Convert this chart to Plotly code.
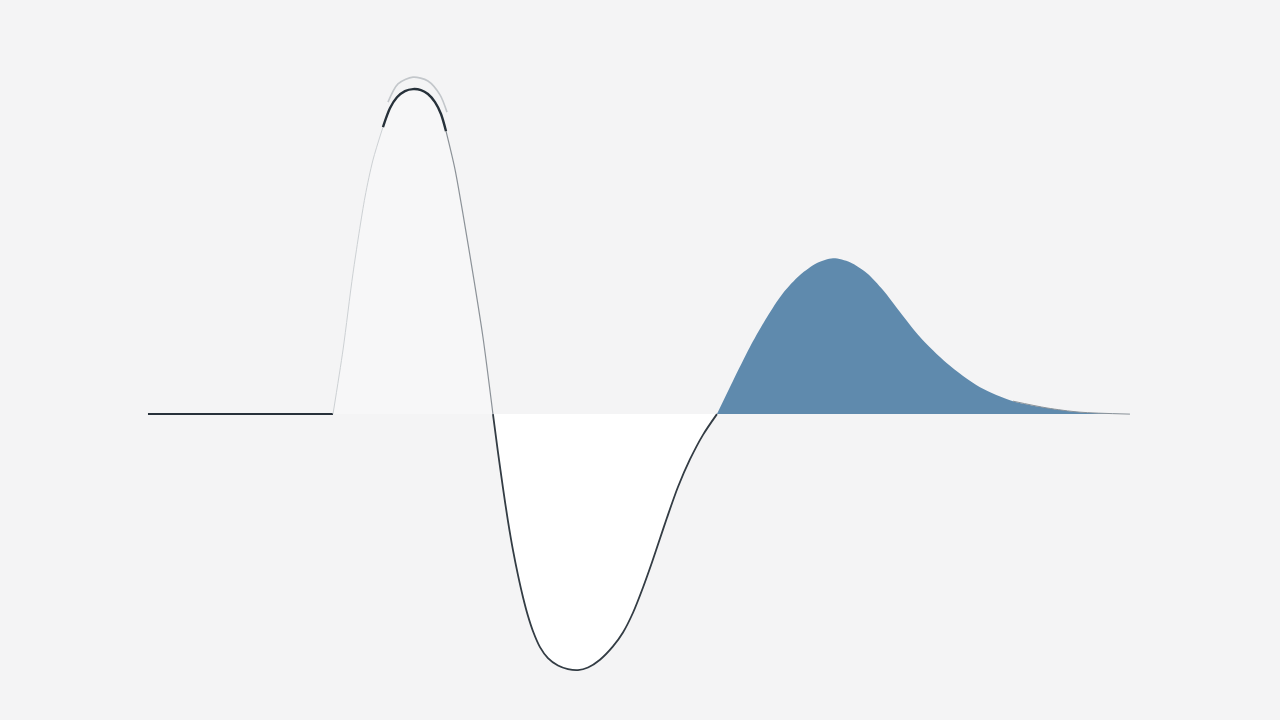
#######################################################################
# Кривая отклика: плоский участок, острый пик, провал и синий горб
#######################################################################
import plotly.graph_objs as go

#######################################################################
# Данные (время в усл. ед., амплитуда в усл. ед.)
#######################################################################
# плоский участок до стимула
t_flat   = [0.0, 1.884]
amp_flat = [0.0, 0.0]

# подъём к первому пику (слабая серая линия)
t_rise   = [1.884, 1.986, 2.088, 2.210, 2.291, 2.393]
amp_rise = [0.0,   0.198, 0.435, 0.670, 0.784, 0.886]

# вершина первого пика
t_top    = [2.393, 2.464, 2.536, 2.617, 2.699, 2.780, 2.851, 2.923, 2.984, 3.035]
amp_top  = [0.886, 0.944, 0.978, 0.997, 1.003, 1.000, 0.988, 0.963, 0.926, 0.873]

# "тень" над вершиной
t_ghost   = [2.444, 2.546, 2.699, 2.851, 2.974, 3.045]
amp_ghost = [0.963, 1.019, 1.040, 1.028, 0.985, 0.932]

# спад после пика
t_fall   = [3.035, 3.126, 3.208, 3.310, 3.411, 3.513]
amp_fall = [0.873, 0.756, 0.617, 0.432, 0.238, 0.0]

# провал ниже нуля
t_dip    = [3.513, 3.564, 3.615, 3.666, 3.717, 3.768, 3.819, 3.870, 3.921, 3.992, 4.073, 4.175,
            4.277, 4.379, 4.481, 4.603, 4.735, 4.837, 4.939, 5.041, 5.132, 5.214, 5.285, 5.397,
            5.519, 5.652, 5.794]
amp_dip  = [0.0, -0.117, -0.228, -0.330, -0.420, -0.497, -0.565, -0.623, -0.670, -0.719, -0.753, -0.776,
            -0.787, -0.790, -0.782, -0.758, -0.717, -0.674, -0.613, -0.535, -0.458, -0.384, -0.320, -0.225,
            -0.140, -0.064, 0.0]

# второй (синий) горб
t_hump   = [5.794, 5.957, 6.130, 6.303, 6.466, 6.640, 6.813, 6.976, 7.149, 7.322, 7.485, 7.658,
            7.862, 8.136, 8.473, 8.809, 9.155, 9.491, 10.000]
amp_hump = [0.0, 0.102, 0.207, 0.299, 0.373, 0.429, 0.466, 0.481, 0.469, 0.435, 0.383, 0.315,
            0.238, 0.157, 0.083, 0.040, 0.019, 0.006, 0.0]

#######################################################################
# Цвета
#######################################################################
bg_color    = "#f4f4f5"
dark_line   = "#27313a"
faint_line  = "#cdd1d4"
mid_line    = "#8c9298"
blue_fill   = "#5f8aad"

fig = go.Figure()

# заливка под первым пиком (почти как фон)
fig.add_trace(go.Scatter(
    x=t_rise + t_top[1:] + t_fall[1:], y=amp_rise + amp_top[1:] + amp_fall[1:],
    mode="lines", line=dict(width=0, shape="spline", smoothing=0.8),
    fill="tozeroy", fillcolor="#f7f7f8", hoverinfo="skip"))

# белая заливка провала
fig.add_trace(go.Scatter(
    x=t_dip, y=amp_dip,
    mode="lines", line=dict(width=0, shape="spline", smoothing=0.8),
    fill="tozeroy", fillcolor="#ffffff", hoverinfo="skip"))

# синий горб
fig.add_trace(go.Scatter(
    x=t_hump, y=amp_hump,
    mode="lines", line=dict(width=0, shape="spline", smoothing=0.8),
    fill="tozeroy", fillcolor=blue_fill, hoverinfo="skip"))

# линии кривой
fig.add_trace(go.Scatter(x=t_flat, y=amp_flat, mode="lines",
                         line=dict(color=dark_line, width=2)))
fig.add_trace(go.Scatter(x=t_rise, y=amp_rise, mode="lines",
                         line=dict(color=faint_line, width=1, shape="spline", smoothing=0.8)))
fig.add_trace(go.Scatter(x=t_ghost, y=amp_ghost, mode="lines",
                         line=dict(color="#c3c7cb", width=1.6, shape="spline", smoothing=0.8)))
fig.add_trace(go.Scatter(x=t_top, y=amp_top, mode="lines",
                         line=dict(color=dark_line, width=2.4, shape="spline", smoothing=0.8)))
fig.add_trace(go.Scatter(x=t_fall, y=amp_fall, mode="lines",
                         line=dict(color=mid_line, width=1.2, shape="spline", smoothing=0.8)))
fig.add_trace(go.Scatter(x=t_dip, y=amp_dip, mode="lines",
                         line=dict(color="#333c44", width=1.8, shape="spline", smoothing=0.8)))
# хвост горба тонкой серой линией
fig.add_trace(go.Scatter(x=t_hump[-4:], y=amp_hump[-4:], mode="lines",
                         line=dict(color="#8a9299", width=1, shape="spline", smoothing=0.8)))

fig.update_layout(
    width=1280, height=720,
    margin=dict(l=0, r=0, t=0, b=0),
    paper_bgcolor=bg_color, plot_bgcolor=bg_color,
    showlegend=False,
)
fig.update_xaxes(visible=False, range=[-1.507, 11.528], fixedrange=True)
fig.update_yaxes(visible=False, range=[-0.944, 1.278], fixedrange=True)

# убираем стандартный отступ страницы, чтобы рисунок встал в угол окна
fig.write_html("out.html", config={"displayModeBar": False},
               post_script="document.body.style.margin='0';")
